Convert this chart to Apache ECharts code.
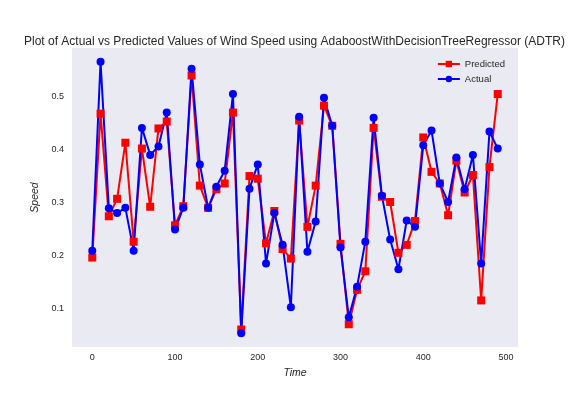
<!DOCTYPE html>
<html>
<head>
<meta charset="utf-8">
<script src="https://cdn.jsdelivr.net/npm/echarts@6/dist/echarts.min.js"></script>
<style>
  html, body { margin: 0; padding: 0; background: #fff; }
  #chart { width: 576px; height: 396px; }
</style>
</head>
<body>
<div id="chart"></div>
<script>
  // time steps 0..490
  var timeSteps = [0, 10, 20, 30, 40, 50, 60, 70, 80, 90, 100, 110, 120, 130, 140, 150, 160, 170, 180, 190,
    200, 210, 220, 230, 240, 250, 260, 270, 280, 290, 300, 310, 320, 330, 340, 350, 360, 370, 380, 390,
    400, 410, 420, 430, 440, 450, 460, 470, 480, 490];
  var predicted = [0.196, 0.468, 0.274, 0.307, 0.413, 0.226, 0.402, 0.292, 0.440, 0.453,
    0.257, 0.293, 0.540, 0.332, 0.290, 0.325, 0.336, 0.470, 0.060, 0.350,
    0.345, 0.223, 0.284, 0.212, 0.194, 0.455, 0.254, 0.332, 0.483, 0.445,
    0.222, 0.070, 0.135, 0.170, 0.441, 0.311, 0.301, 0.205, 0.220, 0.265,
    0.423, 0.358, 0.336, 0.276, 0.379, 0.319, 0.352, 0.115, 0.367, 0.505];
  var actual = [0.209, 0.566, 0.289, 0.280, 0.290, 0.209, 0.441, 0.390, 0.406, 0.470,
    0.249, 0.290, 0.553, 0.372, 0.290, 0.330, 0.360, 0.505, 0.053, 0.326,
    0.372, 0.185, 0.280, 0.220, 0.102, 0.462, 0.207, 0.264, 0.498, 0.445,
    0.215, 0.083, 0.141, 0.226, 0.460, 0.313, 0.230, 0.174, 0.266, 0.254,
    0.408, 0.436, 0.336, 0.301, 0.385, 0.325, 0.390, 0.185, 0.434, 0.402];
  var xTicks = [0, 100, 200, 300, 400, 500];
  var yTicks = [0.1, 0.2, 0.3, 0.4, 0.5];

  function pairs(xs, ys) {
    return xs.map(function (x, i) { return [x, ys[i]]; });
  }

  var myChart = echarts.init(document.getElementById('chart'));
  var tickText = { color: '#262626', fontSize: 9, fontFamily: 'Liberation Sans' };
  myChart.setOption({
    animation: false,
    title: {
      text: 'Plot of Actual vs Predicted Values of Wind Speed using AdaboostWithDecisionTreeRegressor (ADTR)',
      left: 19,
      top: 31,
      textStyle: { color: '#262626', fontSize: 12, fontWeight: 'normal', fontFamily: 'Liberation Sans' }
    },
    grid: {
      left: 72,
      right: 58,
      top: 48,
      bottom: 49,
      show: true,
      backgroundColor: '#eaeaf2',
      borderWidth: 0
    },
    legend: {
      orient: 'vertical',
      right: 66,
      top: 54,
      itemWidth: 22,
      itemHeight: 8,
      itemGap: 5,
      textStyle: { color: '#262626', fontSize: 9.5, fontFamily: 'Liberation Sans' },
      data: ['Predicted', 'Actual']
    },
    xAxis: {
      type: 'value',
      min: -24.5,
      max: 514.5,
      name: 'Time',
      nameLocation: 'middle',
      nameGap: 21,
      nameTextStyle: { color: '#262626', fontSize: 10.5, fontStyle: 'italic', fontFamily: 'Liberation Sans' },
      axisLine: { show: false },
      axisTick: { show: false },
      splitLine: { show: false },
      axisLabel: Object.assign({ customValues: xTicks, margin: 6 }, tickText)
    },
    yAxis: {
      type: 'value',
      min: 0.027,
      max: 0.592,
      name: 'Speed',
      nameLocation: 'middle',
      nameGap: 31,
      nameTextStyle: { color: '#262626', fontSize: 10.5, fontStyle: 'italic', fontFamily: 'Liberation Sans' },
      axisLine: { show: false },
      axisTick: { show: false },
      splitLine: { show: false },
      axisLabel: Object.assign({
        customValues: yTicks,
        margin: 8,
        formatter: function (v) { return (+v).toFixed(1); }
      }, tickText)
    },
    series: [{
        name: 'Predicted',
        type: 'line',
        symbol: 'rect',
        symbolSize: 8,
        showAllSymbol: true,
        itemStyle: { color: '#ff0000' },
        lineStyle: { color: '#ff0000', width: 2 },
        data: pairs(timeSteps, predicted)
      },
      {
        name: 'Actual',
        type: 'line',
        symbol: 'circle',
        symbolSize: 8,
        showAllSymbol: true,
        itemStyle: { color: '#0000ff' },
        lineStyle: { color: '#0000ff', width: 2 },
        data: pairs(timeSteps, actual)
      }
    ]
  });
</script>
</body>
</html>
